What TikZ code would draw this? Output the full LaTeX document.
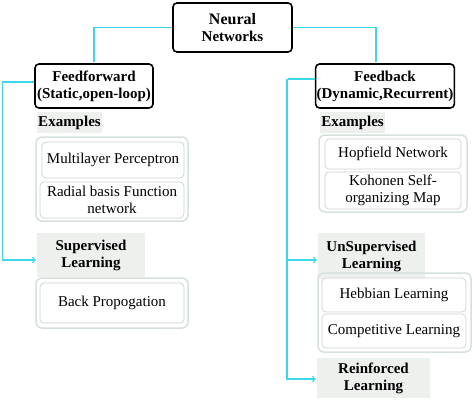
\documentclass[tikz,border=0pt]{standalone}
\usepackage{fontspec}
\setmainfont{Liberation Serif}
\definecolor{linkcyan}{RGB}{60,215,232}
\definecolor{taggray}{RGB}{238,240,238}
\definecolor{groupline}{RGB}{214,224,221}
\definecolor{itemline}{RGB}{206,208,208}

\begin{document}
\begin{tikzpicture}[x=1pt, y=-1pt, shorten >=1pt, font=\fontsize{15}{17}\selectfont]
		\tikzstyle{head}=[draw=black, line width=1.6pt, rounded corners=4pt, fill=white, align=center, inner sep=1pt, font=\fontsize{15}{17}\selectfont\bfseries]
		\tikzstyle{tag}=[fill=taggray, align=center, inner sep=1pt, font=\fontsize{15}{17}\selectfont\bfseries]
		\tikzstyle{group}=[draw=groupline, line width=1.5pt, rounded corners=6pt]
		\tikzstyle{item}=[draw=itemline, line width=0.7pt, rounded corners=4pt, fill=white, align=center, inner sep=1pt]
		\tikzstyle{link}=[draw=linkcyan, line width=1.4pt]

		\useasboundingbox (0,0) rectangle (474,402);

		% Draw heads
		\node[head, minimum width=119pt, minimum height=49pt] (nn) at (232.5,27.5) {\fontsize{16}{18}\selectfont Neural\\Networks};
		\node[head, minimum width=118pt, minimum height=44pt] (ff) at (94,86) {Feedforward\\(Static,open-loop)};
		\node[head, minimum width=136pt, minimum height=44pt] (fb) at (385,86) {Feedback\\(Dynamic,Recurrent)};

		% Draw left column
		\node[tag, minimum width=65pt, minimum height=21pt] (exl) at (69.5,122.5) {Examples};
		\node[group, minimum width=152pt, minimum height=84pt] (exgrpl) at (112,179) {};
		\node[item, minimum width=142pt, minimum height=36pt] (mlp) at (113,160) {Multilayer Perceptron};
		\node[item, minimum width=144pt, minimum height=36pt] (rbf) at (112,200) {Radial basis Function\\network};
		\node[tag, minimum width=108pt, minimum height=44pt] (sup) at (91,255) {Supervised\\Learning};
		\node[group, minimum width=152pt, minimum height=50pt] (bpgrp) at (112,303) {};
		\node[item, minimum width=144pt, minimum height=40pt] (bp) at (112,303) {Back Propogation};

		% Draw right column
		\node[tag, minimum width=61pt, minimum height=21pt] (exr) at (352.5,122.5) {Examples};
		\node[group, minimum width=148pt, minimum height=77pt] (exgrpr) at (393,173.5) {};
		\node[item, minimum width=136pt, minimum height=30pt] (hop) at (393,154) {Hopfield Network};
		\node[item, minimum width=136pt, minimum height=37pt] (koh) at (393,190.5) {Kohonen Self-\\organizing Map};
		\node[tag, minimum width=107pt, minimum height=46pt] (unsup) at (371.5,256) {UnSupervised\\Learning};
		\node[group, minimum width=153pt, minimum height=79pt] (lgrp) at (394.5,312.5) {};
		\node[item, minimum width=144pt, minimum height=34pt] (heb) at (394,295) {Hebbian Learning};
		\node[item, minimum width=144pt, minimum height=34pt] (comp) at (394,331) {Competitive Learning};
		\node[tag, minimum width=113pt, minimum height=40pt] (rein) at (373.5,378) {Reinforced\\Learning};

		% Draw links
		\draw[link] (nn.west) -| (ff.north);
		\draw[link] (nn.east) -| ([xshift=-9pt]fb.north);
		\draw[link, ->] ([yshift=4pt]ff.west) -- ++(-32,0) |- ([yshift=-5pt]sup.west);
		\coordinate (fbturn) at ([xshift=-28pt, yshift=7pt]fb.west);
		\draw[link] ([yshift=7pt]fb.west) -- (fbturn);
		\draw[link, ->] (fbturn) |- ([yshift=-4pt]unsup.west);
		\draw[link, ->] (fbturn) |- ([yshift=-1pt]rein.west);

		\end{tikzpicture}
\end{document}
